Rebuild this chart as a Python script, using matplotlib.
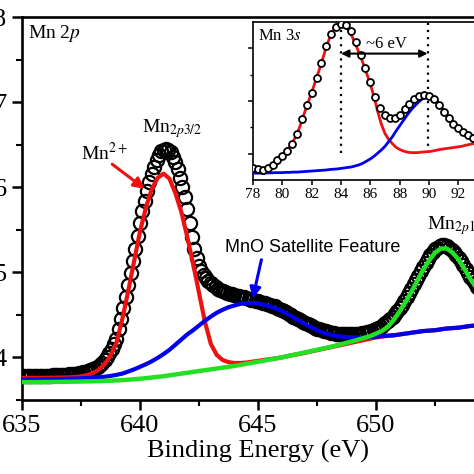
import numpy as np
import matplotlib
matplotlib.use('Agg')
import matplotlib.pyplot as plt
from matplotlib.ticker import MultipleLocator

plt.rcParams['font.family'] = ['Liberation Serif', 'DejaVu Serif']
plt.rcParams['mathtext.fontset'] = 'stix'

# ---- Mn 2p spectrum (main panel) ----
# measured points, 0.1 eV apart from 635.0 to 655.0 eV
exp_energy = np.round(635 + 0.1 * np.arange(201), 2)
exp_counts = [
    3.780, 3.780, 3.781, 3.781, 3.782, 3.782, 3.783, 3.783, 3.784, 3.784,
    3.785, 3.786, 3.787, 3.788, 3.790, 3.791, 3.793, 3.795, 3.797, 3.799,
    3.800, 3.803, 3.806, 3.810, 3.815, 3.820, 3.826, 3.833, 3.841, 3.850,
    3.860, 3.875, 3.892, 3.914, 3.940, 3.970, 4.010, 4.055, 4.105, 4.160,
    4.220, 4.330, 4.450, 4.580, 4.715, 4.850, 4.990, 5.130, 5.280, 5.430,
    5.580, 5.720, 5.840, 5.950, 6.060, 6.150, 6.240, 6.320, 6.380, 6.420,
    6.440, 6.450, 6.440, 6.410, 6.360, 6.300, 6.210, 6.110, 6.000, 5.880,
    5.740, 5.580, 5.420, 5.280, 5.170, 5.080, 5.020, 4.970, 4.930, 4.900,
    4.870, 4.850, 4.830, 4.810, 4.795, 4.780, 4.770, 4.760, 4.750, 4.740,
    4.730, 4.725, 4.720, 4.710, 4.705, 4.700, 4.690, 4.680, 4.675, 4.665,
    4.660, 4.650, 4.640, 4.635, 4.625, 4.620, 4.610, 4.600, 4.585, 4.570,
    4.560, 4.545, 4.530, 4.510, 4.495, 4.480, 4.465, 4.450, 4.435, 4.420,
    4.410, 4.395, 4.380, 4.365, 4.350, 4.340, 4.330, 4.320, 4.310, 4.305,
    4.300, 4.290, 4.285, 4.280, 4.275, 4.270, 4.270, 4.270, 4.270, 4.270,
    4.270, 4.272, 4.275, 4.280, 4.285, 4.290, 4.295, 4.300, 4.310, 4.320,
    4.330, 4.345, 4.360, 4.380, 4.400, 4.425, 4.450, 4.480, 4.510, 4.545,
    4.580, 4.620, 4.660, 4.710, 4.760, 4.810, 4.860, 4.910, 4.960, 5.010,
    5.060, 5.110, 5.160, 5.200, 5.240, 5.270, 5.290, 5.310, 5.320, 5.320,
    5.310, 5.290, 5.265, 5.235, 5.200, 5.170, 5.130, 5.090, 5.040, 4.990,
    4.950, 4.910, 4.870, 4.830, 4.790, 4.755, 4.720, 4.690, 4.660, 4.640,
    4.620,
]

# fitted components, 0.25 eV apart from 635 to 655 eV
fit_energy = 635 + 0.25 * np.arange(81)
mn2_fit = [
    3.760, 3.760, 3.760, 3.760, 3.761, 3.762, 3.763, 3.764,
    3.766, 3.770, 3.778, 3.792, 3.815, 3.855, 3.920, 4.020,
    4.170, 4.450, 4.780, 5.130, 5.480, 5.760, 5.980, 6.110,
    6.160, 6.100, 5.930, 5.710, 5.420, 5.100, 4.760, 4.420,
    4.160, 4.030, 3.970, 3.945, 3.935, 3.935, 3.940, 3.950,
    3.960, 3.970, 3.980, 3.990, 4.000, 4.015, 4.030, 4.040,
    4.055, 4.070, 4.085, 4.100, 4.115, 4.130, 4.145, 4.160,
    4.175, 4.190, 4.205, 4.220, 4.235, 4.245, 4.255, 4.260,
    4.270, 4.280, 4.290, 4.300, 4.310, 4.315, 4.320, 4.330,
    4.340, 4.345, 4.350, 4.360, 4.370, 4.375, 4.385, 4.390,
    4.400,
]
satellite_fit = [
    3.740, 3.741, 3.742, 3.743, 3.745, 3.746, 3.747, 3.748,
    3.750, 3.752, 3.755, 3.758, 3.762, 3.767, 3.773, 3.783,
    3.795, 3.810, 3.835, 3.860, 3.890, 3.920, 3.955, 3.995,
    4.040, 4.090, 4.150, 4.210, 4.270, 4.320, 4.375, 4.430,
    4.480, 4.525, 4.560, 4.590, 4.610, 4.630, 4.640, 4.640,
    4.635, 4.620, 4.600, 4.575, 4.545, 4.510, 4.470, 4.430,
    4.390, 4.355, 4.320, 4.290, 4.270, 4.255, 4.245, 4.240,
    4.235, 4.235, 4.235, 4.240, 4.245, 4.250, 4.255, 4.260,
    4.270, 4.280, 4.290, 4.300, 4.310, 4.315, 4.320, 4.330,
    4.340, 4.345, 4.350, 4.360, 4.370, 4.375, 4.385, 4.390,
    4.400,
]
p12_fit = [
    3.710, 3.710, 3.710, 3.711, 3.712, 3.712, 3.713, 3.714,
    3.715, 3.716, 3.717, 3.719, 3.720, 3.722, 3.724, 3.727,
    3.730, 3.734, 3.738, 3.744, 3.750, 3.757, 3.764, 3.772,
    3.780, 3.790, 3.800, 3.810, 3.820, 3.830, 3.840, 3.850,
    3.860, 3.870, 3.880, 3.890, 3.900, 3.912, 3.925, 3.937,
    3.950, 3.962, 3.975, 3.987, 4.000, 4.015, 4.030, 4.045,
    4.060, 4.075, 4.090, 4.105, 4.120, 4.137, 4.155, 4.172,
    4.190, 4.210, 4.230, 4.250, 4.280, 4.310, 4.360, 4.440,
    4.540, 4.650, 4.770, 4.900, 5.030, 5.140, 5.230, 5.280,
    5.280, 5.230, 5.150, 5.040, 4.920, 4.820, 4.730, 4.660,
    4.600,
]
main_ticks = [635, 640, 645, 650]

# ---- Mn 3s inset ----
s_energy = 78 + np.arange(47) / 3
s_counts = [
    0.72, 0.70, 0.69, 0.72, 0.78, 0.88, 0.96, 1.05, 1.18, 1.38,
    1.65, 1.92, 2.16, 2.44, 2.72, 3.05, 3.28, 3.41, 3.47, 3.44,
    3.33, 3.12, 2.88, 2.62, 2.36, 2.08, 1.86, 1.73, 1.68, 1.68,
    1.74, 1.84, 1.95, 2.04, 2.09, 2.11, 2.10, 2.03, 1.92, 1.80,
    1.68, 1.57, 1.48, 1.41, 1.35, 1.30, 1.27,
]
s_fit_energy = 78 + 0.25 * np.arange(65)
s_main_fit = [
    0.68, 0.68, 0.69, 0.71, 0.74, 0.78, 0.83, 0.89,
    0.96, 1.04, 1.13, 1.24, 1.37, 1.56, 1.77, 1.97,
    2.16, 2.37, 2.58, 2.80, 3.03, 3.22, 3.36, 3.44,
    3.46, 3.43, 3.35, 3.23, 3.07, 2.90, 2.72, 2.52,
    2.32, 2.08, 1.80, 1.56, 1.38, 1.27, 1.19, 1.12,
    1.08, 1.05, 1.03, 1.02, 1.02, 1.02, 1.03, 1.035,
    1.04, 1.05, 1.065, 1.08, 1.09, 1.10, 1.11, 1.12,
    1.13, 1.14, 1.16, 1.175, 1.19, 1.20, 1.21, 1.22,
    1.23,
]
s_split_fit = [
    0.63, 0.63, 0.63, 0.63, 0.635, 0.635, 0.64, 0.64,
    0.64, 0.645, 0.645, 0.65, 0.65, 0.655, 0.66, 0.665,
    0.67, 0.675, 0.68, 0.685, 0.69, 0.70, 0.705, 0.71,
    0.72, 0.73, 0.74, 0.75, 0.77, 0.79, 0.82, 0.86,
    0.90, 0.95, 1.01, 1.07, 1.14, 1.23, 1.32, 1.43,
    1.53, 1.63, 1.73, 1.82, 1.90, 1.97, 2.03, 2.07,
    2.08, 2.06, 2.00, 1.92, 1.82, 1.72, 1.62, 1.53,
    1.46, 1.40, 1.35, 1.31, 1.28, 1.25, 1.23, 1.21,
    1.19,
]
s_peaks = [84.0, 89.9]

red = '#ee1111'
blue = '#0000ee'
green = '#22e022'

fig = plt.figure(figsize=(4.74, 4.74), dpi=100)
# the original figure was cropped, so the frame runs past the canvas edges
ax = fig.add_axes([22 / 474, 74 / 474, 472 / 474, 383 / 474])

ax.plot(exp_energy, exp_counts, 'o', ms=9.5, mfc='none', mec='black', mew=1.6, zorder=2)
ax.plot(fit_energy, mn2_fit, color=red, lw=3, zorder=3)
ax.plot(fit_energy, satellite_fit, color=blue, lw=3, zorder=4)
ax.plot(fit_energy, p12_fit, color=green, lw=3.2, zorder=5)

ax.set_xlim(635, 655)
ax.set_ylim(3.5, 8)
ax.set_xticks(main_ticks)
ax.xaxis.set_minor_locator(MultipleLocator(2.5))
ax.yaxis.set_major_locator(MultipleLocator(1))
ax.yaxis.set_minor_locator(MultipleLocator(0.5))
ax.tick_params(which='major', direction='out', length=7, width=1.8, labelsize=19, pad=4)
ax.tick_params(which='minor', direction='out', length=4.5, width=1.5)
for sp in ax.spines.values():
    sp.set_linewidth(1.9)
ax.set_xlabel('Binding Energy (eV)', fontsize=19, labelpad=2)

ax.text(635.25, 7.75, r'Mn 2$p$', fontsize=14)
ax.text(640.08, 6.65, r'Mn$_{2p3/2}$', fontsize=14)
ax.text(637.5, 6.32, r'Mn$^{2+}$', fontsize=14)
ax.text(652.16, 5.5, r'Mn$_{2p1/2}$', fontsize=14)
ax.text(643.6, 5.24, 'MnO Satellite Feature', fontsize=13, family='Liberation Sans')
ax.annotate('', xy=(640.3, 5.96), xytext=(638.73, 6.29),
            arrowprops=dict(arrowstyle='-|>', color=red, lw=2.2, mutation_scale=16))
ax.annotate('', xy=(644.75, 4.66), xytext=(645.17, 5.18),
            arrowprops=dict(arrowstyle='-|>', color=blue, lw=2.2, mutation_scale=16))

# inset
axin = fig.add_axes([253 / 474, 294 / 474, 234.7 / 474, 158 / 474])
axin.plot(s_fit_energy, s_main_fit, color=red, lw=2, zorder=3)
axin.plot(s_fit_energy, s_split_fit, color=blue, lw=2, zorder=3)
axin.plot(s_energy, s_counts, 'o', ms=5, mfc='white', mec='black', mew=1.3, zorder=5)
axin.plot([s_peaks[0], s_peaks[0]], [1.02, 3.45], color='black', lw=1.6, ls=(0, (1, 2.2)), zorder=2)
axin.plot([s_peaks[1], s_peaks[1]], [1.02, 3.5], color='black', lw=1.6, ls=(0, (1, 2.2)), zorder=2)
axin.annotate('', xy=(s_peaks[1], 2.9), xytext=(s_peaks[0], 2.9),
              arrowprops=dict(arrowstyle='<|-|>', color='black', lw=1.5, mutation_scale=11,
                              shrinkA=0, shrinkB=0), zorder=6)
axin.text(87.1, 3.0, '~6 eV', fontsize=12, ha='center')
axin.text(78.34, 3.15, r'Mn 3$s$', fontsize=12)

axin.set_xlim(78, 94)
axin.set_ylim(0.5, 3.5)
axin.xaxis.set_major_locator(MultipleLocator(2))
axin.set_yticks([1, 2, 3])
axin.set_yticks([1.5, 2.5], minor=True)
axin.set_yticklabels([])
axin.tick_params(which='major', direction='out', length=3.5, width=1.1, labelsize=11, pad=2)
axin.tick_params(which='minor', direction='out', length=2, width=1)
for sp in axin.spines.values():
    sp.set_linewidth(1.2)

fig.savefig('out.png', dpi=100)
